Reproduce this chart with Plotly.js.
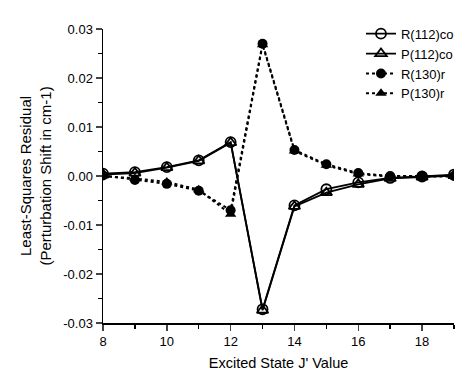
<!DOCTYPE html>
<html><head><meta charset="utf-8">
<script src="https://cdn.plot.ly/plotly-3.0.1.min.js"></script>
<style>body{margin:0;background:#fff}#c{width:474px;height:379px}</style>
</head><body><div id="c"></div>
<script>
const J = [8,9,10,11,12,13,14,15,16,17,18,19];
const R112co = [0.0005,0.0008,0.0018,0.0032,0.0069,-0.0272,-0.0060,-0.0027,-0.0013,-0.0004,-0.0001,0.0003];
const P112co = [0.0003,0.0006,0.0017,0.0031,0.0068,-0.0274,-0.0062,-0.0034,-0.0017,-0.0005,-0.0002,0.0001];
const R130r = [0.0001,-0.0008,-0.0016,-0.0030,-0.0070,0.0270,0.0053,0.0024,0.0006,0.0000,0.0000,0.0000];
const P130r = [0.0000,-0.0005,-0.0012,-0.0028,-0.0078,0.0268,0.0051,0.0022,0.0004,-0.0001,-0.0001,-0.0001];
const yTickVals = [-0.03,-0.02,-0.01,0,0.01,0.02,0.03];
const yTickText = ["-0.03","-0.02","-0.01","0.00","0.01","0.02","0.03"];
const xTickVals = [8,10,12,14,16,18];

const common = {type:'scatter', mode:'lines+markers', x:J};
const traces = [
  Object.assign({}, common, {name:'R(112)co', y:R112co,
    line:{color:'#000', width:1.8, dash:'solid'},
    marker:{symbol:'circle-open', size:10, color:'#000', line:{width:1.8, color:'#000'}}}),
  Object.assign({}, common, {name:'P(112)co', y:P112co,
    line:{color:'#000', width:1.8, dash:'solid'},
    marker:{symbol:'triangle-up-open', size:10, color:'#000', line:{width:1.8, color:'#000'}}}),
  Object.assign({}, common, {name:'R(130)r', y:R130r,
    line:{color:'#000', width:2, dash:'dot'},
    marker:{symbol:'circle', size:10, color:'#000'}}),
  Object.assign({}, common, {name:'P(130)r', y:P130r,
    line:{color:'#000', width:2, dash:'dot'},
    marker:{symbol:'triangle-up', size:10, color:'#000'}})
];
const font = {family:'"Liberation Sans", Arial, sans-serif', color:'#000', size:13};
const layout = {
  width:474, height:379,
  margin:{l:103, r:20, t:29, b:56},
  paper_bgcolor:'#fff', plot_bgcolor:'#fff',
  font: font,
  showlegend:true,
  legend:{x:0.735, y:1.035, xanchor:'left', yanchor:'top', bgcolor:'rgba(0,0,0,0)', font:{size:13, family:font.family}},
  xaxis:{range:[8,19], tickvals:xTickVals, ticks:'outside', ticklen:6, tickwidth:1.5,
    showline:true, linecolor:'#000', linewidth:1.5, showgrid:false, zeroline:false,
    minor:{dtick:1, ticks:'outside', ticklen:4, tickwidth:1.5, tickcolor:'#000', showgrid:false},
    tickfont:{size:13}, title:{text:"Excited State J' Value", font:{size:14.5}, standoff:10}},
  yaxis:{range:[-0.03,0.03], tickvals:yTickVals, ticktext:yTickText, ticks:'outside', ticklen:6, tickwidth:1.5,
    showline:true, linecolor:'#000', linewidth:1.5, showgrid:false, zeroline:false,
    minor:{dtick:0.005, ticks:'outside', ticklen:4, tickwidth:1.5, tickcolor:'#000', showgrid:false},
    tickfont:{size:13}, title:{text:'Least-Squares Residual<br>(Perturbation Shift in cm-1)', font:{size:15}, standoff:8}}
};
Plotly.newPlot('c', traces, layout, {displayModeBar:false, staticPlot:true});
</script></body></html>
